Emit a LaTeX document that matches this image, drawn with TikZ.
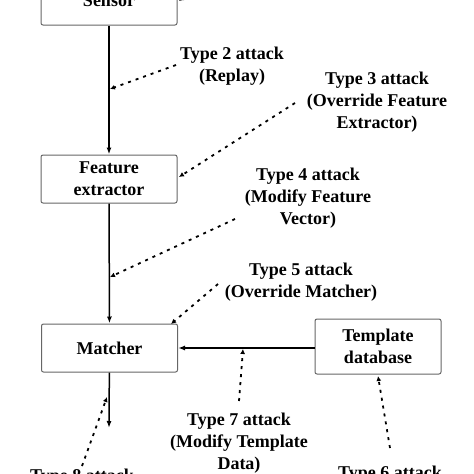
\documentclass[tikz,border=0pt]{standalone}
\usepackage{fontspec}
\setmainfont{Liberation Serif}
\usetikzlibrary{arrows.meta}

\begin{document}
\begin{tikzpicture}[x=1pt,y=-1pt,
  box/.style = {shape=rectangle, rounded corners=2pt,
    draw=black!60, line width=1pt, align=center,
    minimum width=136pt, minimum height=48pt,
    font=\bfseries\fontsize{18}{22}\selectfont},
  lbl/.style = {align=center, inner sep=0pt,
    font=\bfseries\fontsize{18}{22}\selectfont},
  flow/.style = {line width=1.5pt, -{Latex[length=7pt,width=5pt]}},
  attack/.style = {line width=1.8pt, dash pattern=on 3pt off 5pt,
    -{Latex[length=5pt,width=5pt]}}]
  \useasboundingbox (0,0) rectangle (474,474);

  % blocks
  \node[box] (sensor) at (109,1) {Sensor};
  \node[box] (fe) at (109,179) {Feature\\extractor};
  \node[box] (matcher) at (109.5,348) {Matcher};
  \node[box, minimum width=126pt, minimum height=55pt] (tdb) at (378,346.5) {Template\\database};
  \coordinate (out) at (109,428);

  % data flow
  \draw[flow] (sensor) -- (fe);
  \draw[flow] (fe) -- (matcher);
  \draw[flow] (tdb.west |- 0,348) -- (matcher.east |- 0,348);
  \draw[flow] (matcher) -- (out);

  % attack labels
  \node[lbl] (l2) at (232,66.5) {Type 2 attack\\(Replay)};
  \node[lbl] (l3) at (377,102) {Type 3 attack\\(Override Feature\\Extractor)};
  \node[lbl] (l4) at (308,198) {Type 4 attack\\(Modify Feature\\Vector)};
  \node[lbl] (l5) at (301,282) {Type 5 attack\\(Override Matcher)};
  \node[lbl] (l7) at (239,443.5) {Type 7 attack\\(Modify Template\\Data)};
  \node[lbl] (l6) at (390,474) {Type 6 attack};
  \node[lbl] (l8) at (82,477) {Type 8 attack};

  % attack points
  \coordinate (a1s) at (215,-25);  \coordinate (a1e) at (179,1);
  \coordinate (a2s) at (176,65);   \coordinate (a2e) at (110,89);
  \coordinate (a3s) at (295,103);  \coordinate (a3e) at (179,177);
  \coordinate (a4s) at (235,219);  \coordinate (a4e) at (110,277);
  \coordinate (a5s) at (218,284);  \coordinate (a5e) at (171,324);
  \coordinate (a7s) at (239,401);  \coordinate (a7e) at (243,349);
  \coordinate (a6s) at (390,448);  \coordinate (a6e) at (378,376);
  \coordinate (a8s) at (82,466);   \coordinate (a8e) at (107,397);

  \draw[attack] (a1s) -- (a1e);
  \draw[attack] (a2s) -- (a2e);
  \draw[attack] (a3s) -- (a3e);
  \draw[attack] (a4s) -- (a4e);
  \draw[attack] (a5s) -- (a5e);
  \draw[attack] (a7s) -- (a7e);
  \draw[attack] (a6s) -- (a6e);
  \draw[attack] (a8s) -- (a8e);
\end{tikzpicture}
\end{document}
